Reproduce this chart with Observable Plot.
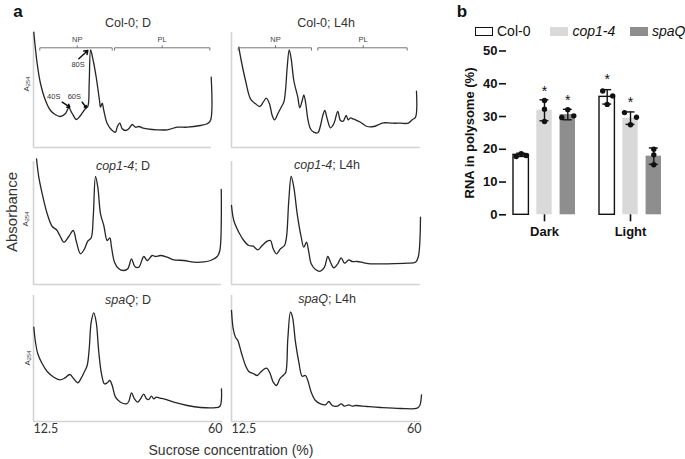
<!DOCTYPE html>
<html><head><meta charset="utf-8">
<script src="https://cdn.jsdelivr.net/npm/d3@7"></script>
<script src="https://cdn.jsdelivr.net/npm/@observablehq/plot@0.6"></script>
<style>
html,body{margin:0;padding:0;background:#fff;}
#root{position:relative;width:685px;height:459px;overflow:hidden;font-family:"Liberation Sans",Arial,Helvetica,sans-serif;color:#222;background:#fff;}
.t{position:absolute;white-space:nowrap;transform:translate(-50%,-50%);line-height:1;}
.t sub{font-size:0.72em;vertical-align:-0.25em;line-height:0;}
.box{position:absolute;box-sizing:border-box;}
svg{overflow:visible;}
</style></head><body><div id="root"></div>
<script>
// ---------------- DATA (panel a: polysome profiles, [sucrose %, A254 arbitrary units]) ----------------
const sucroseTicks = [12.5, 60];
const col0_D = [[12.58,115.3],[13.49,83.7],[14.37,64],[15.70,47],[17.04,37],[18.37,32.7],[19.70,31],[21.04,34],[21.92,39.7],[22.83,34],[23.97,28],[25.04,32],[26.38,39],[26.99,41],[27.36,64],[27.75,97.5],[28.43,87],[29.23,70.3],[30.11,47],[30.38,40.3],[30.83,44.3],[31.26,37],[32.17,24],[33.50,17],[34.38,15.3],[34.83,20.3],[35.53,24.3],[36.17,18.7],[37.05,17],[37.93,18.7],[38.84,23],[39.72,20.3],[40.61,21],[41.51,19.7],[42.84,18.7],[45.51,17.7],[48.18,17.7],[50.85,20.3],[53.52,20.3],[57.06,22],[58.85,23.7],[59.73,27],[59.92,70.3]];
const col0_L4h = [[14.33,100.3],[14.94,87],[16.02,67],[17.27,48.7],[18.53,43.7],[19.61,41],[20.47,45.3],[21.22,49.3],[22.05,43.7],[22.73,32],[23.31,27.7],[24.14,33.7],[24.99,40.3],[25.64,45.3],[26.07,57],[26.50,80.3],[27.00,97.7],[27.50,88.7],[28.16,67],[29.16,50.3],[29.66,39.7],[30.27,47],[30.67,52.7],[31.17,43.7],[31.67,28.7],[32.35,18.7],[33.18,15.3],[34.19,14.7],[34.87,22],[35.44,32],[35.95,37],[36.55,28.7],[37.38,19.7],[38.21,23.7],[39.21,36],[39.89,27],[40.57,26.3],[41.32,32],[41.83,27.7],[42.40,29.7],[42.98,28.7],[43.66,27.7],[44.92,25.3],[46.60,21],[48.26,21],[49.94,23.7],[50.77,24.7],[52.88,24.3],[54.97,24.3],[56.91,24.3],[57.91,27.7],[58.74,30.3],[58.99,56.3]];
const cop1_D = [[13.26,125.7],[13.84,107.3],[14.70,90.7],[15.96,70.7],[17.23,58],[18.31,54.7],[19.15,49],[20.16,42.3],[21.42,48],[22.53,54],[23.37,42.3],[24.38,30.7],[25.39,35.7],[26.22,43.3],[27.08,46.7],[27.59,67.3],[28.17,108],[28.75,97.3],[29.43,70.7],[30.26,59],[31.12,44],[31.78,46.7],[32.21,37.3],[32.97,22.3],[34.06,15.7],[35.32,14],[36.33,15.7],[37.26,25.7],[38.10,18],[39.11,17.3],[40.37,28],[41.23,24],[42.50,29],[43.33,28],[44.59,29],[46.29,27.3],[47.95,24.7],[50.48,24],[53.01,22.3],[54.70,22.3],[57.23,24],[58.92,28],[59.58,34],[59.93,95]];
const cop1_L4h = [[12.50,79],[13.08,64],[14.33,52.3],[15.59,44],[16.85,39],[17.95,38.3],[19.11,34.7],[20.22,39],[21.47,43.3],[22.30,44],[22.98,35.7],[23.81,30.7],[24.81,35.7],[25.82,39],[26.32,47.3],[26.90,84],[27.50,108],[28.16,97.3],[29.01,70.7],[30.02,47.3],[30.67,37.3],[31.35,42.3],[31.93,32.3],[32.53,20.7],[33.61,15],[34.87,13.3],[35.87,17.3],[36.70,28],[37.38,22.3],[38.21,16.7],[39.21,20.7],[40.07,26.7],[40.90,21.3],[41.98,24.7],[42.83,23],[44.09,23],[45.75,21.7],[47.43,20.7],[51.63,20.7],[56.65,21.3],[58.74,22.3],[59.42,27.3],[60.00,67.3]];
const spaQ_D = [[12.58,94.3],[13.00,79.3],[13.58,67.7],[14.69,57.7],[15.94,50],[17.60,44.3],[19.11,41.7],[20.29,43.3],[21.62,47],[22.63,42.7],[23.63,38.7],[24.49,43.3],[25.32,50],[25.99,56],[26.50,72.7],[27.00,99.3],[27.65,108.7],[28.26,99.3],[28.91,69.3],[29.59,47.7],[30.34,37.7],[31.02,38.7],[31.67,41],[32.28,36],[33.11,24.3],[34.36,19.3],[35.87,17.7],[36.45,20],[37.13,28.7],[37.88,22.7],[38.71,19.3],[39.39,22.7],[40.22,27.3],[40.90,22.7],[41.47,22],[42.15,25.3],[42.73,22.7],[43.41,24.3],[44.24,23.3],[45.24,22.7],[47.76,19.3],[51.13,16],[54.47,14],[57.81,13.7],[59.32,15],[59.74,32.7]];
const spaQ_L4h = [[12.50,111],[12.93,92.7],[13.50,84.3],[14.08,81],[14.93,69.3],[16.00,56],[16.83,50],[18.08,47.7],[18.93,46],[19.75,49.3],[21.25,53.3],[22.08,48.7],[22.93,39.3],[23.75,36],[24.58,42.7],[25.58,46.7],[26.08,49.3],[26.58,82.7],[27.25,109.3],[27.75,104.3],[28.50,79.3],[29.33,59.3],[30.18,45.3],[31.00,46],[31.58,41],[32.43,29.3],[33.50,21],[34.75,17.7],[36.00,16.7],[36.83,20],[37.68,16],[38.93,15.3],[39.93,17.7],[40.75,15.3],[41.83,16.7],[42.68,15.3],[43.50,16],[46.43,15],[49.75,14],[54.75,13],[58.93,13.3],[59.58,16],[60.00,26.7]];
// fraction brackets (sucrose %)
const fractionsD = [{label:"NP", x1:14.18, x2:33.50, xm:24.16}, {label:"PL", x1:34.11, x2:59.55, xm:46.84}];
const fractionsL = [{label:"NP", x1:14.18, x2:32.60, xm:23.56}, {label:"PL", x1:34.19, x2:56.65, xm:45.60}];
const ribosomeLabels = ["40S","60S","80S"];
const ribosomePeaks = [[22.19,40.3],[26.64,39.7],[27.0,97]];

// ---------------- DATA (panel b) ----------------
const conditions = ["Dark","Light"];
const genotypes = ["Col-0","cop1-4","spaQ"];
const meanDark = [18.3, 31.9, 30.6];
const meanLight = [36.0, 29.5, 17.9];
const sdDark = [0.5, 3.2, 1.6];
const sdLight = [2.2, 1.9, 2.5];
const repsDark = [[17.8,18.65,18.1],[34.9,32.2,28.5],[29.7,32.1,30.2]];
const repsLight = [[37.8,36.3,33.7],[31.2,29.8,27.5],[20.0,18.3,15.3]];
const starDark = [null, 38.8, 36.0];
const starLight = [42.3, 35.4, null];
const yTicks = [0,10,20,30,40,50];

// ---------------- LAYOUT ----------------
const root = document.getElementById("root");
function place(node, left, top){ node.style.position="absolute"; node.style.left=left+"px"; node.style.top=top+"px"; root.appendChild(node); }
function label(html, x, y, css){ const d=document.createElement("div"); d.className="t"; d.innerHTML=html; d.style.left=x+"px"; d.style.top=y+"px"; if(css) Object.assign(d.style, css); root.appendChild(d); return d; }
function box(x,y,w,h,css){ const d=document.createElement("div"); d.className="box"; Object.assign(d.style,{left:x+"px",top:y+"px",width:w+"px",height:h+"px"},css); root.appendChild(d); }

const FRAME = "#d3d3d3";
const FONT = "'Liberation Sans', Arial, Helvetica, sans-serif";
function profile(data, o){
  const ML=6, MR=6, MT=14, MB = o.bottom ? 26 : 6;
  const marks = [
    Plot.ruleX([12.5], {stroke: FRAME, strokeWidth: 1.6}),
    Plot.ruleY([0], {stroke: FRAME, strokeWidth: 1.6}),
    Plot.line(data, {x: d=>d[0], y: d=>d[1], curve:"catmull-rom", stroke:"#262626", strokeWidth:1.3})
  ];
  if (o.bottom) marks.push(
    Plot.text([sucroseTicks[0]], {x: d=>d, text: d=>String(d), frameAnchor:"bottom", textAnchor:"start", dy: 11, fontSize: 12.5, fontFamily:"Lato, 'Open Sans', sans-serif", fill:"#333"}),
    Plot.text([sucroseTicks[1]], {x: d=>d, text: d=>String(d), frameAnchor:"bottom", textAnchor:"end", dy: 11, fontSize: 12.5, fontFamily:"Lato, 'Open Sans', sans-serif", fill:"#333"}));
  if (o.fractions){
    const Y = 99.7;
    marks.push(
      Plot.link(o.fractions, {x1:"x1", x2:"x2", y1:Y, y2:Y, stroke:"#666", strokeWidth:0.9}),
      Plot.link(o.fractions.flatMap(b=>[b.x1,b.x2]), {x1:d=>d, x2:d=>d, y1:Y, y2:Y-2.8, stroke:"#666", strokeWidth:0.9}),
      Plot.link(o.fractions, {x1:"xm", x2:"xm", y1:Y, y2:Y+2.5, stroke:"#666", strokeWidth:0.9}),
      Plot.text(o.fractions, {x:"xm", y:Y+8.5, text:"label", fontSize:7.5, fill:"#444"})
    );
  }
  if (o.ribosomes){
    const arrows = [
      {x1:20.16, y1:45.3}, {x1:25.50, y1:45.3}, {x1:24.59, y1:88.7}
    ].map((a,i)=>({...a, x2:ribosomePeaks[i][0], y2:ribosomePeaks[i][1], label:ribosomeLabels[i]}));
    const lblPos = [[17.9,51],[23.4,51],[24.4,83]];
    marks.push(
      Plot.arrow(arrows, {x1:"x1", y1:"y1", x2:"x2", y2:"y2", headLength:4.5, headAngle:70, stroke:"#111", strokeWidth:1.5}),
      Plot.text(arrows, {x:(d,i)=>lblPos[i][0], y:(d,i)=>lblPos[i][1], text:"label", fontSize:7.5, fill:"#333"})
    );
  }
  const svg = Plot.plot({
    width: o.w+ML+MR, height: o.h+MT+MB,
    marginLeft:ML, marginRight:MR, marginTop:MT, marginBottom:MB,
    x:{domain:[12.5,60], axis:null}, y:{domain:[0,o.h], axis:null},
    style:{fontFamily:FONT, background:"transparent", overflow:"visible"},
    marks
  });
  place(svg, o.left-ML, o.top-MT);
}

profile(col0_D,   {left:33,  top:32,  w:178, h:115, fractions:fractionsD, ribosomes:true});
profile(col0_L4h, {left:231, top:32,  w:189, h:115, fractions:fractionsL});
profile(cop1_D,   {left:33,  top:161, w:188, h:123});
profile(cop1_L4h, {left:231, top:161, w:189, h:123});
profile(spaQ_D,   {left:33,  top:295, w:189, h:126, bottom:true});
profile(spaQ_L4h, {left:231, top:295, w:190, h:126, bottom:true});

// panel a text
label("a", 18, 11, {fontWeight:"bold", fontSize:"17px", color:"#111"});
const tcss = {fontSize:"12.5px", color:"#333"};
label("Col-0; D", 128, 23, tcss);
label("Col-0; L4h", 326, 23, tcss);
label("<i>cop1-4</i>; D", 123, 166, tcss);
label("<i>cop1-4</i>; L4h", 327, 165, tcss);
label("<i>spaQ</i>; D", 128, 300, tcss);
label("<i>spaQ</i>; L4h", 327, 299, tcss);
const acss = {fontSize:"8px", color:"#333", transform:"translate(-50%,-50%) rotate(-90deg)"};
label("A<sub>254</sub>", 26.5, 84, acss);
label("A<sub>254</sub>", 25.5, 219, acss);
label("A<sub>254</sub>", 28, 358, acss);
label("Absorbance", 11, 212, {fontSize:"15px", color:"#333", transform:"translate(-50%,-50%) rotate(-90deg)"});
label("Sucrose concentration (%)", 231, 450, {fontSize:"14px", color:"#333"});

// ---------------- panel b ----------------
const fills = ["#ffffff", "#d9d9d9", "#8e8e8e"];
const barW = 15.5, slotStep = 23.3, BW = 62.1;
const slotOff = gi => (gi-1)*slotStep;       // offset of a bar centre from group centre (px)
const dotJitter = {Dark:[[-5,0,5],[0,0,0],[-6,0,6]], Light:[[-4.5,5.5,0],[-6,6,0],[0,0,0]]};
const barData = [], errData = [], dotData = [], starData = [];
conditions.forEach((c,ci)=>{
  const means = ci===0?meanDark:meanLight, sds = ci===0?sdDark:sdLight, reps = ci===0?repsDark:repsLight, stars = ci===0?starDark:starLight;
  genotypes.forEach((g,gi)=>{
    barData.push({cond:c, gi, mean:means[gi]});
    errData.push({cond:c, gi, lo:means[gi]-sds[gi], hi:means[gi]+sds[gi]});
    reps[gi].forEach((v,ri)=>dotData.push({cond:c, gi, v, j:dotJitter[c][gi][ri]}));
    if (stars[gi]!=null) starData.push({cond:c, gi, v:stars[gi]});
  });
});
const bMarks = [];
genotypes.forEach((g,gi)=>{
  bMarks.push(Plot.barY(barData.filter(d=>d.gi===gi), {x:"cond", y:"mean", fill:fills[gi], stroke: gi===0?"#111":"none", strokeWidth:1.4, insetLeft: gi*slotStep, insetRight: BW - gi*slotStep - barW}));
});
genotypes.forEach((g,gi)=>{
  const c = gi*slotStep + barW/2;
  const e = errData.filter(d=>d.gi===gi);
  bMarks.push(
    Plot.ruleX(e, {x:"cond", y1:"lo", y2:"hi", dx: slotOff(gi), stroke:"#111", strokeWidth:1.4}),
    Plot.tickY(e, {x:"cond", y:"hi", insetLeft: c-4.5, insetRight: BW-c-4.5, stroke:"#111", strokeWidth:1.4}),
    Plot.tickY(e, {x:"cond", y:"lo", insetLeft: c-4.5, insetRight: BW-c-4.5, stroke:"#111", strokeWidth:1.4})
  );
});
dotData.forEach(d=>bMarks.push(Plot.dot([d], {x:"cond", y:"v", dx: slotOff(d.gi)+d.j, r:2.7, fill:"#111", stroke:"none"})));
starData.forEach(d=>bMarks.push(Plot.text([d], {x:"cond", y:"v", text:()=>"*", dx: slotOff(d.gi), dy:3.5, fontSize:14, fill:"#111"})));
bMarks.push(
  Plot.axisY({ticks:yTicks, tickSize:7, tickPadding:2, line:true, label:null, fontWeight:"bold", fontSize:13, strokeWidth:1.6, anchor:"left", tickFormat:d=>String(d)}),
  Plot.axisX({tickSize:7, tickPadding:5, line:true, label:null, fontWeight:"bold", fontSize:13, strokeWidth:1.6, anchor:"bottom"})
);
const chartB = Plot.plot({
  width:235, height:245, marginLeft:56, marginRight:22, marginTop:50.5, marginBottom:30.7,
  x:{domain:conditions, paddingInner:0.278, paddingOuter:0.0517, align:0.82},
  y:{domain:[0,50]},
  style:{fontFamily:FONT, background:"transparent", color:"#111", overflow:"visible"},
  marks:bMarks
});
place(chartB, 450, 0);

label("b", 462, 11, {fontWeight:"bold", fontSize:"17px", color:"#111"});
label("RNA in polysome (%)", 469, 132.5, {fontWeight:"bold", fontSize:"13px", color:"#111", transform:"translate(-50%,-50%) rotate(-90deg)"});
// legend
box(475, 26.7, 18.3, 9, {border:"1.4px solid #111", background:"#fff"});
label("Col-0", 497, 31, {fontSize:"14px", color:"#111", transform:"translate(0,-50%)"});
box(550, 26.7, 18.3, 9, {background:fills[1]});
label("<i>cop1-4</i>", 572.5, 31, {fontSize:"14px", color:"#111", transform:"translate(0,-50%)"});
box(630, 26.7, 18.3, 9, {background:fills[2]});
label("<i>spaQ</i>", 652, 31, {fontSize:"14px", color:"#111", transform:"translate(0,-50%)"});
</script></body></html>
